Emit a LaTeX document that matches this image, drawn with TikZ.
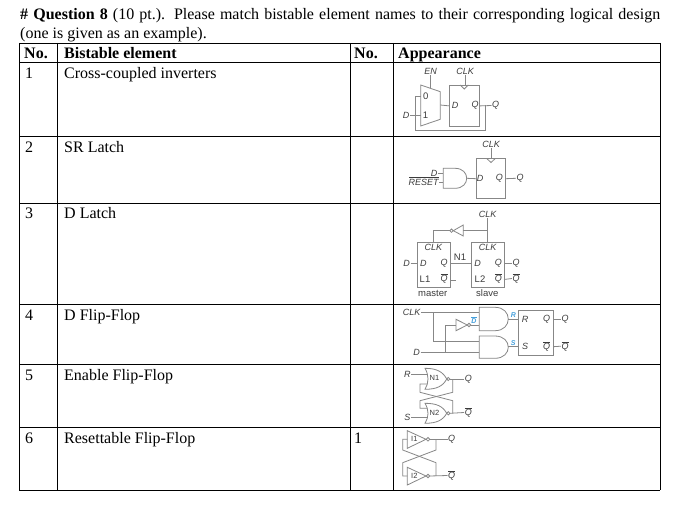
\documentclass[tikz,border=0pt]{standalone}
\usepackage{fontspec}
\setmainfont{Liberation Serif}
\setsansfont{Liberation Sans}
\usetikzlibrary{calc}
\definecolor{wirecol}{RGB}{135,135,135}
\definecolor{lblcol}{RGB}{60,60,60}
\definecolor{bluecol}{RGB}{70,160,220}
\newcommand{\Qbar}{$\overline{\mbox{Q}}$}
\newcommand{\Dbar}{$\overline{\mbox{D}}$}
\tikzset{
  txt/.style={anchor=base west,inner sep=0pt,font=\fontsize{16}{18}\selectfont},
  hdr/.style={txt,font=\fontsize{16}{18}\selectfont\bfseries},
  gridline/.style={line width=0.9pt,black},
  wire/.style={line width=0.8pt,wirecol},
  lbl/.style={inner sep=0.5pt,text=lblcol,font=\sffamily\itshape\fontsize{9}{10}\selectfont},
  pinlbl/.style={inner sep=0.5pt,text=lblcol,font=\sffamily\fontsize{9.5}{10}\selectfont},
  small lbl/.style={pinlbl,font=\sffamily\fontsize{7.5}{8}\selectfont},
  blue lbl/.style={lbl,text=bluecol,font=\sffamily\itshape\bfseries\fontsize{7}{8}\selectfont},
  ffbox/.style={wire,draw,rectangle,anchor=north west,inner sep=0pt},
}
\begin{document}
\begin{tikzpicture}[x=1pt,y=-1pt]
  \useasboundingbox (0,0) rectangle (690,510);
  \fill[white] (0,0) rectangle (690,510);

  % heading
  \node[txt] (title) at (20,20) {\makebox[640pt][s]{\textbf{\# Question 8} (10 pt.). Please match bistable element names to their corresponding logical design}};
  \node[txt] (titleb) at (20,39) {(one is given as an example).};

  % table
  \foreach \y in {43,62,136,203,304,364,427,490}
    \draw[gridline] (19,\y) -- (660,\y);
  \foreach \x in {19,57,350,393,660}
    \draw[gridline] (\x,43) -- (\x,490);

  \node[hdr] (hno) at (24,59) {No.};
  \node[hdr] (hname) at (64,59) {Bistable element};
  \node[hdr] (hnob) at (354,59) {No.};
  \node[hdr] (happ) at (398,59) {Appearance};
  \foreach \n/\y/\name in {1/79/Cross-coupled inverters,2/153/SR Latch,3/219/D Latch,4/320/D Flip-Flop,5/380/Enable Flip-Flop,6/443/Resettable Flip-Flop}{
    \node[txt] (no\n) at (25,\y) {\n};
    \node[txt] (name\n) at (64,\y) {\name};
  }
  \node[txt] (ans) at (354,443) {1};

  % enable flip-flop
  \draw[wire] (420.7,85) -- (440.3,91.7) -- (440.3,119.3) -- (420.7,126) -- cycle;
  \node[ffbox,minimum width=30pt,minimum height=41pt] (enff) at (449.3,85) {};
  \draw[wire] (460.3,85) -- (464.3,89) -- (468.3,85);
  \node[lbl] (enlbl) at (430.7,71) {EN};
  \node[lbl] (enclk) at (465,71) {CLK};
  \node[pinlbl] (mux0) at (425.7,96.7) {0};
  \node[pinlbl] (mux1) at (425.5,115.5) {1};
  \node[lbl] (end) at (406,115.5) {D};
  \node[lbl] (enffd) at (455,105.5) {D};
  \node[lbl] (enffq) at (475,105.5) {Q};
  \node[lbl] (enq) at (495.7,105.5) {Q};
  \draw[wire] (enlbl.south) -- (430.7,88.3);
  \draw[wire] (enclk.south) -- (enclk.south |- enff.north);
  \draw[wire] (end.east) -- (420.7,115.5);
  \draw[wire] (440.3,105) -- (enff.west);
  \draw[wire] (enff.east) -- (enq.west);
  \draw[wire] (485.3,105) |- (415,130) |- (420.7,96);

  % resettable flip-flop
  \node[ffbox,minimum width=29pt,minimum height=40pt] (rsff) at (476,158.3) {};
  \draw[wire] (486.5,158.3) -- (491,162.5) -- (495.5,158.3);
  \draw[wire] (455,168.3) .. controls (470.6,168.3) and (470.6,188.3) .. (455,188.3) -- (443.3,188.3) -- (443.3,168.3) -- cycle;
  \node[lbl] (rsclk) at (491,144.5) {CLK};
  \node[lbl] (rsd) at (434,173.3) {D};
  \node[lbl] (rsreset) at (423.5,182) {RESET};
  \node[lbl] (rsffd) at (480,178.3) {D};
  \node[lbl] (rsffq) at (499.3,178.3) {Q};
  \node[lbl] (rsq) at (520,178.3) {Q};
  \draw[wire] (rsclk.south) -- (rsclk.south |- rsff.north);
  \draw[wire] (rsd.east) -- (443.3,173.3);
  \draw[wire] (rsreset.east) -- (443.3,182);
  \draw[lblcol,line width=0.5pt] (409.3,177.3) -- (439.3,177.3);
  \draw[wire] (466.7,178.3) -- (rsff.west);
  \draw[wire] (rsff.east) -- (rsq.west);

  % master slave
  \node[ffbox,minimum width=33.3pt,minimum height=45.6pt] (master) at (416.7,241.7) {};
  \node[ffbox,minimum width=33pt,minimum height=45.6pt] (slave) at (471,241.7) {};
  \node[lbl] (msclk) at (487.7,214.3) {CLK};
  \node[lbl] (lclk) at (433.3,247.5) {CLK};
  \node[lbl] (sclk) at (487.7,247.5) {CLK};
  \node[lbl] (md) at (406.7,263) {D};
  \node[lbl] (ld) at (423.3,263) {D};
  \node[lbl] (lq) at (444,263) {Q};
  \node[pinlbl] (lname) at (425,279.5) {L1};
  \node[lbl] (lqb) at (444,278.5) {\Qbar};
  \node[lbl] (sd) at (477.7,263) {D};
  \node[lbl] (sq) at (498.3,263) {Q};
  \node[pinlbl] (sname) at (480,279.5) {L2};
  \node[lbl] (sqb) at (498.3,278.5) {\Qbar};
  \node[lbl] (mq) at (516,263) {Q};
  \node[lbl] (mqb) at (516,278.5) {\Qbar};
  \node[pinlbl] (nlbl) at (460,257.7) {N1};
  \node[pinlbl] (mastername) at (432.7,293.5) {master};
  \node[pinlbl] (slavename) at (487.3,293.5) {slave};
  \draw[wire] (msclk.south) -- (msclk.south |- slave.north);
  \draw[wire] (453.3,230.7) -- (463.3,225) -- (463.3,236) -- cycle;
  \draw[wire] (451.5,230.7) circle (1.7pt);
  \draw[wire] (463.3,230.7) -- (487.7,230.7);
  \draw[wire] (449.8,230.7) -| (433.3,241.7);
  \draw[wire] (md.east) -- (416.7,263);
  \draw[wire] (450,263.5) -- (471,263.5);
  \draw[wire] (450,280) -- (456,280);
  \draw[wire] (504,263) -- (mq.west);
  \draw[wire] (504,279.5) -- (mqb.west);

  % sr from d latch
  \node[ffbox,minimum width=35pt,minimum height=45pt] (srbox) at (518.3,310) {};
  \draw[wire] (495,307.3) .. controls (512.7,307.3) and (512.7,330.7) .. (495,330.7) -- (479.3,330.7) -- (479.3,307.3) -- cycle;
  \draw[wire] (495,336) .. controls (512.7,336) and (512.7,358.3) .. (495,358.3) -- (479.3,358.3) -- (479.3,336) -- cycle;
  \draw[wire] (456,319.3) -- (456,330.7) -- (467.3,325) -- cycle;
  \draw[wire] (469,325) circle (1.7pt);
  \node[lbl] (dclk) at (411.7,312.7) {CLK};
  \node[lbl] (dd) at (416.7,352.7) {D};
  \node[blue lbl] (dbar) at (474,320.5) {\Dbar};
  \node[blue lbl] (dr) at (513.3,315) {R};
  \node[blue lbl] (ds) at (513.3,343.3) {S};
  \node[lbl] (rlbl) at (525,319) {R};
  \node[lbl] (slbl) at (525,346.7) {S};
  \node[lbl] (dqi) at (546.7,319) {Q};
  \node[lbl] (dqbi) at (546.7,346.2) {\Qbar};
  \node[lbl] (dq) at (565,319) {Q};
  \node[lbl] (dqb) at (565,346.2) {\Qbar};
  \draw[wire] (dclk.east) -- (479.3,312.7);
  \draw[wire] (433.3,312.7) |- (479.3,341.7);
  \draw[wire] (dd.east) -- (479.3,352.7);
  \draw[wire] (445,352.7) |- (456,325);
  \draw[wire] (470.7,325) -- (479.3,325);
  \draw[wire] (508.3,319) -- (518.3,319);
  \draw[wire] (508.3,346.7) -- (518.3,346.7);
  \draw[wire] (553.3,319) -- (dq.west);
  \draw[wire] (553.3,346.7) -- (dqb.west);

  % nor latch
  \draw[wire] (425,368.3) .. controls (429,375) and (429,383) .. (425,389.3) .. controls (437,389.3) and (443,386) .. (446.7,379) .. controls (443,372) and (437,368.3) .. (425,368.3) -- cycle;
  \draw[wire] (425,403.3) .. controls (429,410) and (429,417) .. (425,423.3) .. controls (437,423.3) and (443,420) .. (446.7,413.3) .. controls (443,406.5) and (437,403.3) .. (425,403.3) -- cycle;
  \draw[wire] (448.3,379) circle (1.6pt);
  \draw[wire] (448.3,413.3) circle (1.6pt);
  \node[lbl] (nr) at (407.3,374.3) {R};
  \node[lbl] (ns) at (407.3,417.3) {S};
  \node[lbl] (nq) at (468.3,379) {Q};
  \node[lbl] (nqb) at (468.3,412.5) {\Qbar};
  \node[small lbl] (none) at (434.5,378) {N1};
  \node[small lbl] (ntwo) at (434.5,413) {N2};
  \draw[wire] (nr.east) -- (427,374.3);
  \draw[wire] (ns.east) -- (427,417.3);
  \draw[wire] (449.9,379) -- (nq.west);
  \draw[wire] (449.9,413.3) -- (nqb.west);
  \draw[wire] (427.3,384) -- (420,384) -- (420,392.3) -- (452.7,400.7) -- (452.7,413.3);
  \draw[wire] (427.3,408.3) -- (420,408.3) -- (420,400.7) -- (452.7,392.3) -- (452.7,379);

  % cross-coupled inverters
  \draw[wire] (407.3,430.7) -- (426,439.3) -- (407.3,448.3) -- cycle;
  \draw[wire] (407.3,467.3) -- (426,476) -- (407.3,485) -- cycle;
  \draw[wire] (428,439.3) circle (1.8pt);
  \draw[wire] (428,476) circle (1.8pt);
  \node[small lbl] (ione) at (414.3,439) {I1};
  \node[small lbl] (itwo) at (414.3,475.5) {I2};
  \node[lbl] (iq) at (451.7,439.3) {Q};
  \node[lbl] (iqb) at (451.7,475.5) {\Qbar};
  \draw[wire] (429.8,439.3) -- (iq.west);
  \draw[wire] (429.8,476) -- (iqb.west);
  \draw[wire] (407.3,439.3) -- (402.7,439.3) -- (402.7,450) -- (436,462.7) -- (436,476);
  \draw[wire] (407.3,476) -- (402.7,476) -- (402.7,462.7) -- (436,450) -- (436,439.3);
\end{tikzpicture}
\end{document}
